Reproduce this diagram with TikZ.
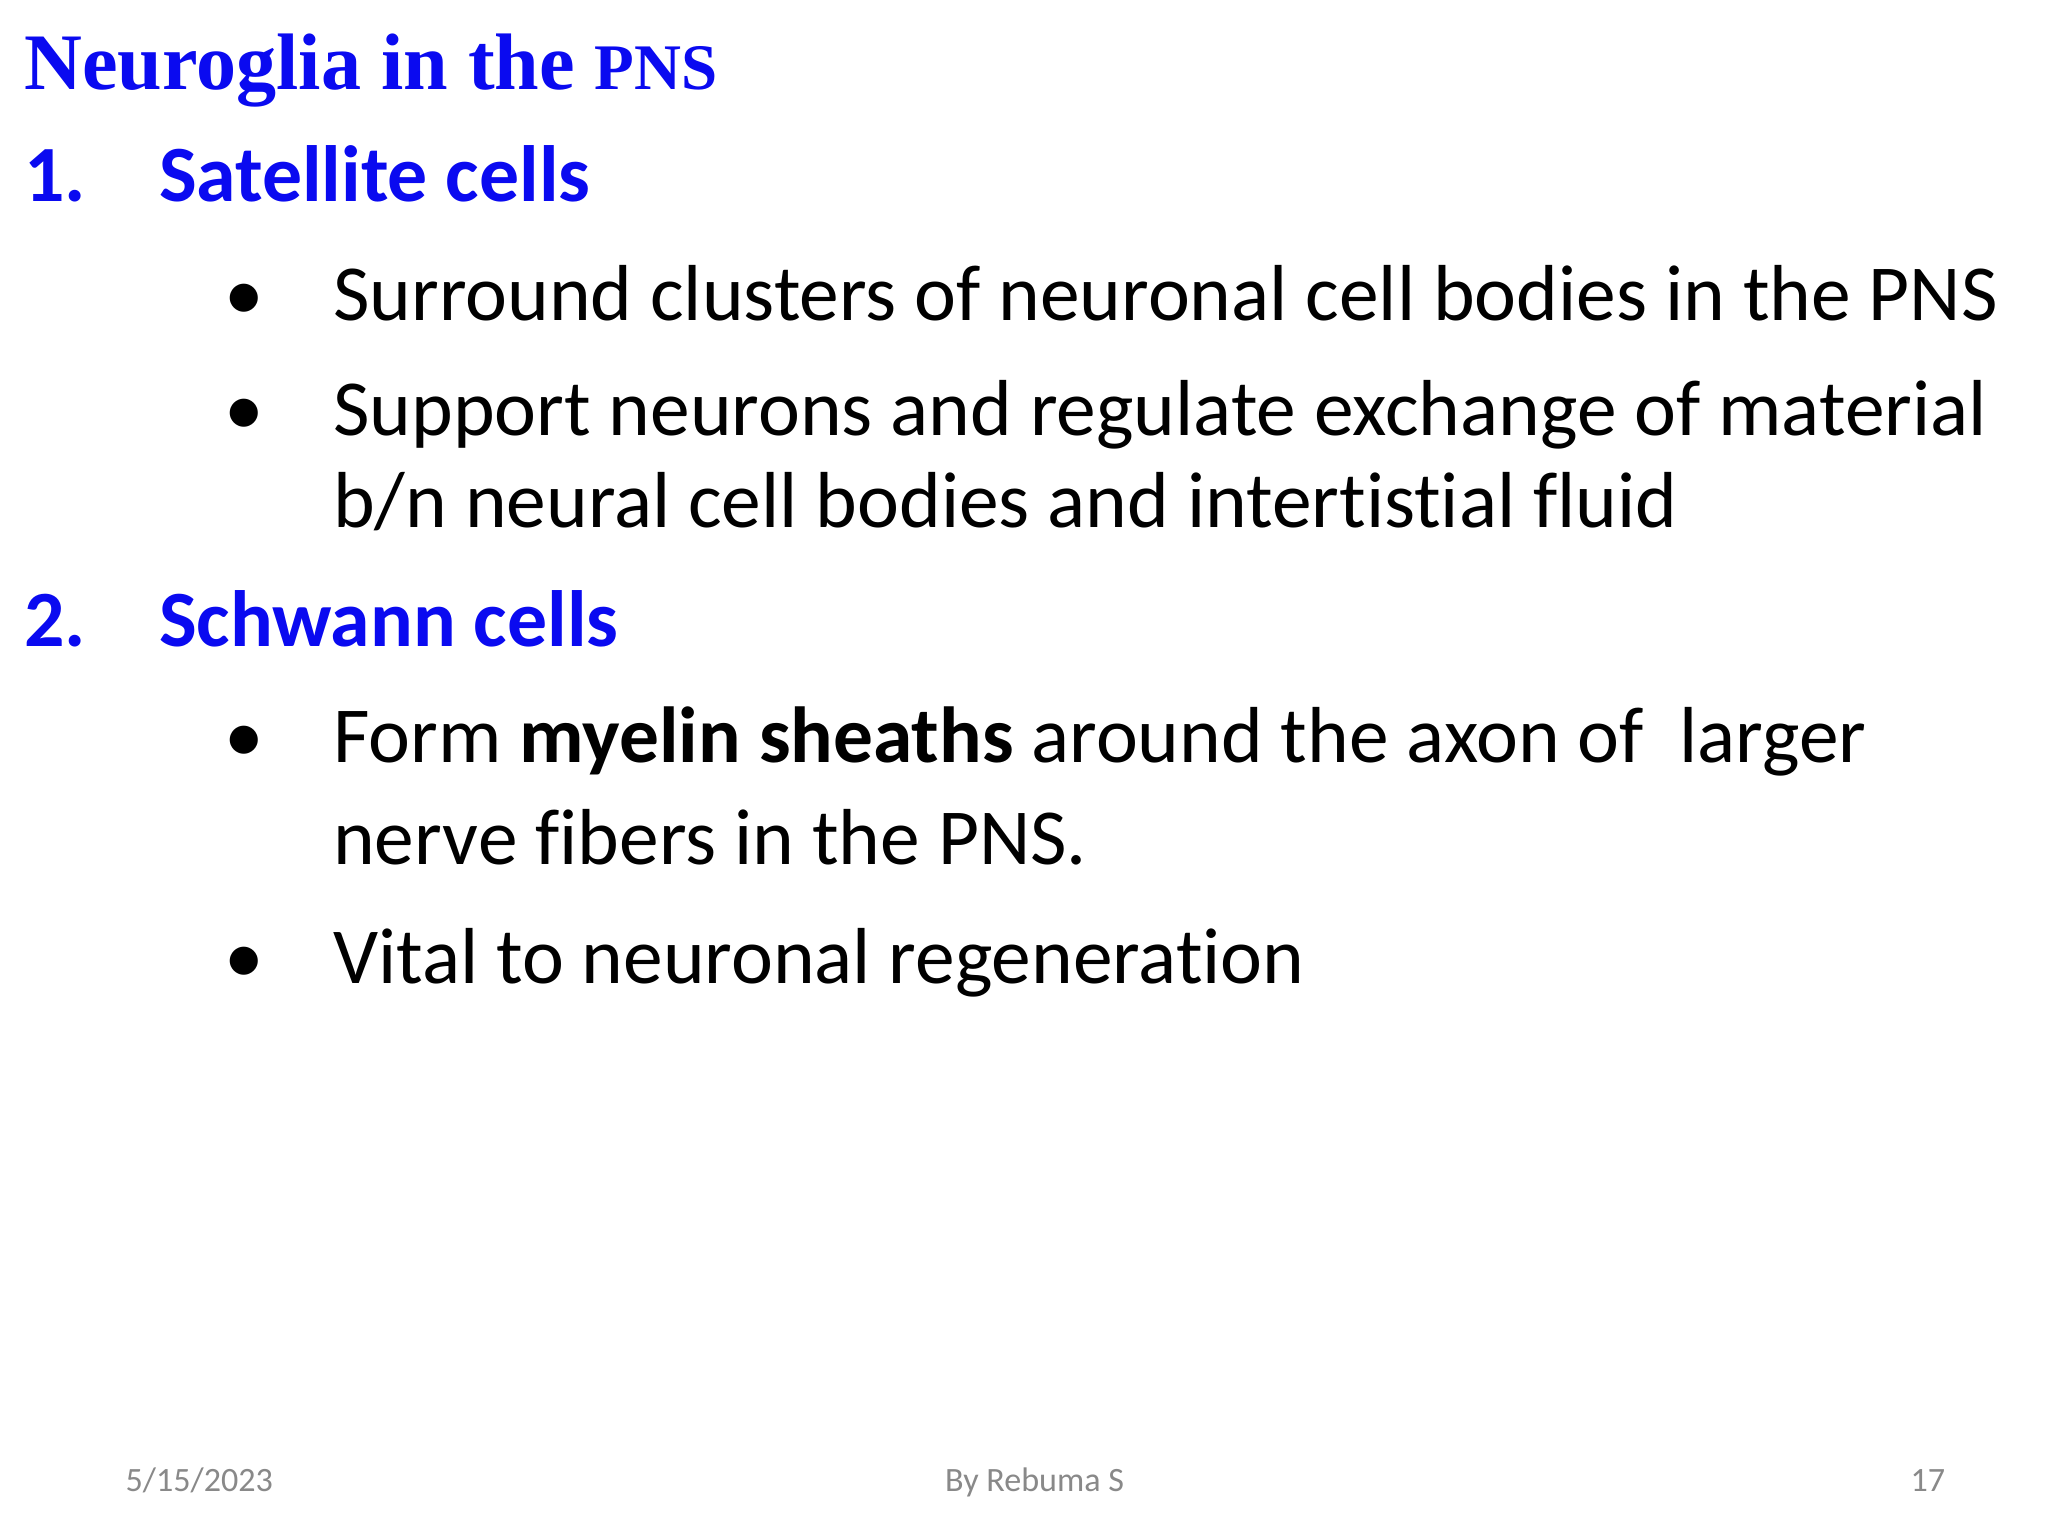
\documentclass[tikz,border=0pt]{standalone}
\usepackage{fontspec}
\setmainfont[Ligatures=NoCommon]{Carlito}
\newfontfamily\titlefont{Liberation Serif}
\definecolor{hblue}{RGB}{10,10,240}
\definecolor{foot}{RGB}{137,137,137}
\begin{document}
\begin{tikzpicture}[x=0.013196cm,y=-0.013196cm]
\tikzset{txt/.style={anchor=base west,inner sep=0pt,font=\fontsize{22.6}{27}\selectfont},
 head/.style={txt,text=hblue,font=\fontsize{22.7}{27}\selectfont\bfseries},
 bul/.style={anchor=base,inner sep=0pt,font=\fontsize{22.6}{27}\selectfont},
 ft/.style={anchor=base,inner sep=0pt,text=foot,font=\fontsize{9.7}{12}\selectfont}}
\useasboundingbox[fill=white] (0,0) rectangle (1552,1164);
\node[txt,text=hblue,font=\titlefont\fontsize{22.8}{27}\selectfont\bfseries] (title) at (18,68) {Neuroglia in the {\fontsize{18.5}{22}\selectfont PNS}};
\node[head] (n1) at (18,153) {1.};
\node[head] (h1) at (120,153) {Satellite cells};
\node[bul] (b1) at (185,243) {•};
\node[txt] (t1) at (252,243) {Surround clusters of neuronal cell bodies in the PNS};
\node[bul] (b2) at (185,330) {•};
\node[txt] (t2) at (252,330) {Support neurons and regulate exchange of material};
\node[txt] (t2b) at (252,400) {b/n neural cell bodies and intertistial fluid};
\node[head] (n2) at (18,490) {2.};
\node[head] (h2) at (120,490) {Schwann cells};
\node[bul] (b3) at (185,578) {•};
\node[txt] (t3) at (252,578) {Form \textbf{myelin sheaths} around the axon of \ larger};
\node[txt] (t3b) at (252,655) {nerve fibers in the PNS.};
\node[bul] (b4) at (185,745) {•};
\node[txt] (t4) at (252,745) {Vital to neuronal regeneration};
\node[ft] (f1) at (151,1130) {5/15/2023};
\node[ft] (f2) at (784,1130) {By Rebuma S};
\node[ft] (f3) at (1461,1130) {17};
\end{tikzpicture}
\end{document}
